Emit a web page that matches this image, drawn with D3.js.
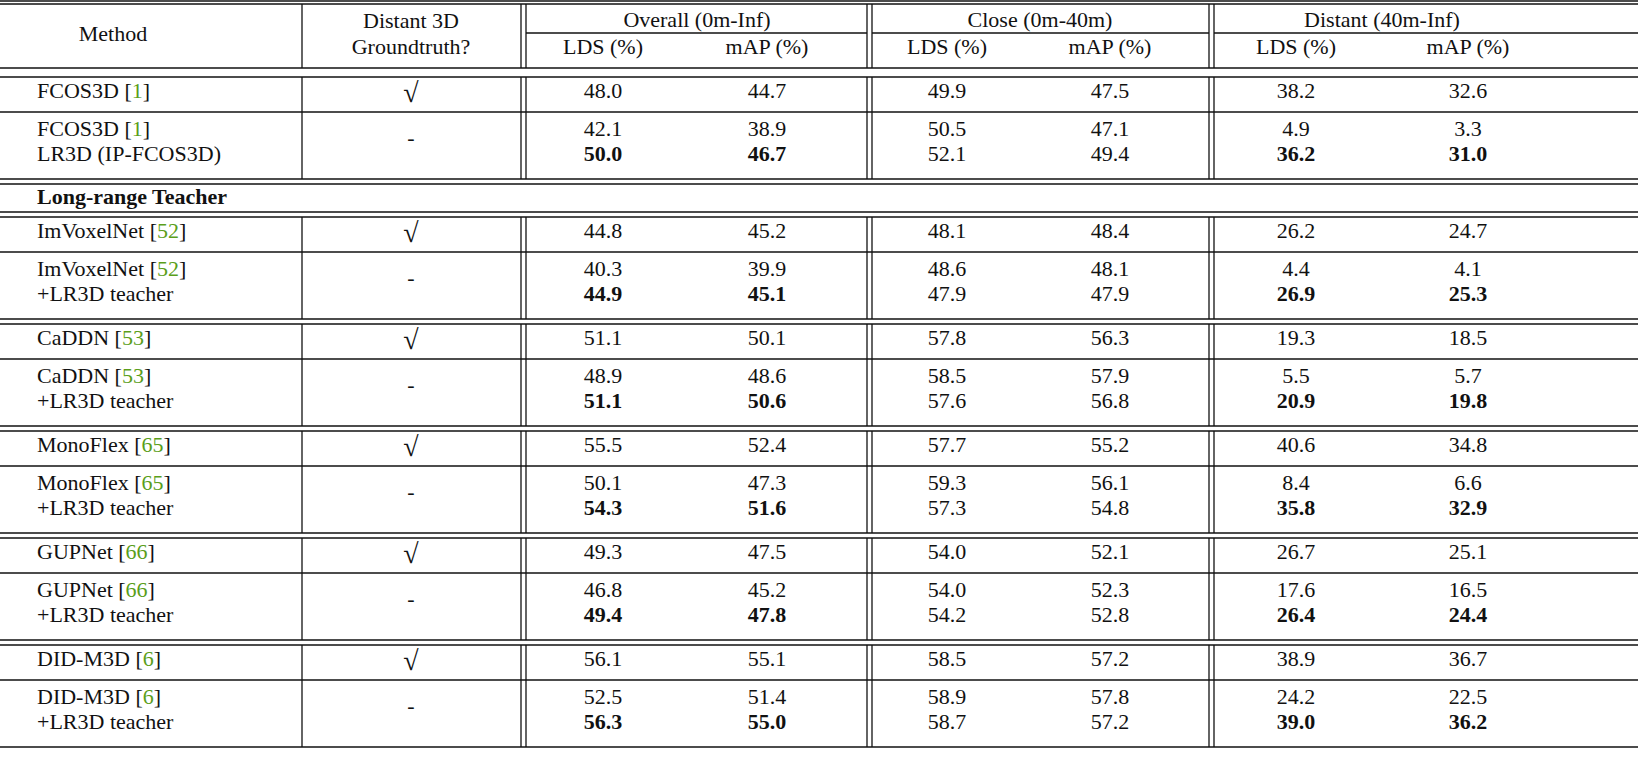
<!DOCTYPE html>
<html><head><meta charset="utf-8">
<script src="https://cdn.jsdelivr.net/npm/d3@7"></script>
<style>body{margin:0;background:#fff}text{font-family:"Liberation Serif","Times New Roman",serif;font-size:22px;fill:#111}</style>
</head><body><svg id="c" width="1638" height="771"></svg>
<script>
const groupHeaders=["Overall (0m-Inf)","Close (0m-40m)","Distant (40m-Inf)"];
const subHeaders=["LDS (%)","mAP (%)"];
const firstGroup=[
 {name:"FCOS3D [",cite:"1",gt:true,vals:["48.0","44.7","49.9","47.5","38.2","32.6"],bold:[]},
 {name:"FCOS3D [",cite:"1",gt:false,vals:["42.1","38.9","50.5","47.1","4.9","3.3"],bold:[]},
 {name:"LR3D (IP-FCOS3D)",cite:"",gt:false,vals:["50.0","46.7","52.1","49.4","36.2","31.0"],bold:[0,1,4,5]}];
const teacherMethods=["ImVoxelNet","CaDDN","MonoFlex","GUPNet","DID-M3D"];
const teacherCites=["52","53","65","66","6"];
const teacherGT=[["44.8","45.2","48.1","48.4","26.2","24.7"],["51.1","50.1","57.8","56.3","19.3","18.5"],["55.5","52.4","57.7","55.2","40.6","34.8"],["49.3","47.5","54.0","52.1","26.7","25.1"],["56.1","55.1","58.5","57.2","38.9","36.7"]];
const teacherBase=[["40.3","39.9","48.6","48.1","4.4","4.1"],["48.9","48.6","58.5","57.9","5.5","5.7"],["50.1","47.3","59.3","56.1","8.4","6.6"],["46.8","45.2","54.0","52.3","17.6","16.5"],["52.5","51.4","58.9","57.8","24.2","22.5"]];
const teacherLR=[["44.9","45.1","47.9","47.9","26.9","25.3"],["51.1","50.6","57.6","56.8","20.9","19.8"],["54.3","51.6","57.3","54.8","35.8","32.9"],["49.4","47.8","54.2","52.8","26.4","24.4"],["56.3","55.0","58.7","57.2","39.0","36.2"]];

const svg=d3.select("#c");
const W=1638;
const xs=[603,767,947,1110,1296,1468];
const gx=[697,1040,1382];
const vlines=[302,521,526,867,872,1209,1214];
const green="#5a9e1a";
function hline(y,x1=0,x2=W){svg.append("line").attr("x1",x1).attr("x2",x2).attr("y1",y).attr("y2",y).attr("stroke","#111").attr("stroke-width",1.3);}
function vl(y1,y2){vlines.forEach(x=>svg.append("line").attr("x1",x).attr("x2",x).attr("y1",y1).attr("y2",y2).attr("stroke","#111").attr("stroke-width",1.3));}
function txt(x,y,s,anchor="middle",bold=false){return svg.append("text").attr("x",x).attr("y",y).attr("dy","0.35em").attr("text-anchor",anchor).attr("font-weight",bold?"bold":null).text(s);}
function method(y,name,cite){const t=txt(37,y,name,"start");if(cite){t.append("tspan").attr("fill",green).style("fill",green).text(cite);t.append("tspan").text("]");}}
hline(1);hline(4);
txt(113,33,"Method");txt(411,20,"Distant 3D");txt(411,46,"Groundtruth?");
groupHeaders.forEach((g,i)=>txt(gx[i],19,g));
xs.forEach((x,i)=>txt(x,46,subHeaders[i%2]));
hline(33,526,867);hline(33,872,1209);hline(33,1214,W);
vl(4,68);hline(68);
function group(T,rows){
 hline(T);
 const r1=T+13,r2=T+51,r3=T+76,B=T+102;
 [r1,r2,r3].forEach((y,k)=>{const r=rows[k];method(y,r.name,r.cite);r.vals.forEach((v,j)=>txt(xs[j],y,v,"middle",r.bold.includes(j)));});
 txt(411,r1+2,"√").style("font-size","28px");txt(411,(r2+r3)/2-3,"-");
 hline(T+35);vl(T,B);hline(B);
 return B;
}
let B=group(77,firstGroup);
hline(B+5);
txt(37,B+17,"Long-range Teacher","start",true);
hline(B+33);
let T=B+38;
teacherMethods.forEach((m,i)=>{
 const rows=[{name:m+" [",cite:teacherCites[i],vals:teacherGT[i],bold:[]},{name:m+" [",cite:teacherCites[i],vals:teacherBase[i],bold:[]},{name:"+LR3D teacher",cite:"",vals:teacherLR[i],bold:[0,1,4,5]}];
 const b=group(T,rows);
 T=b+5;
});
</script></body></html>
